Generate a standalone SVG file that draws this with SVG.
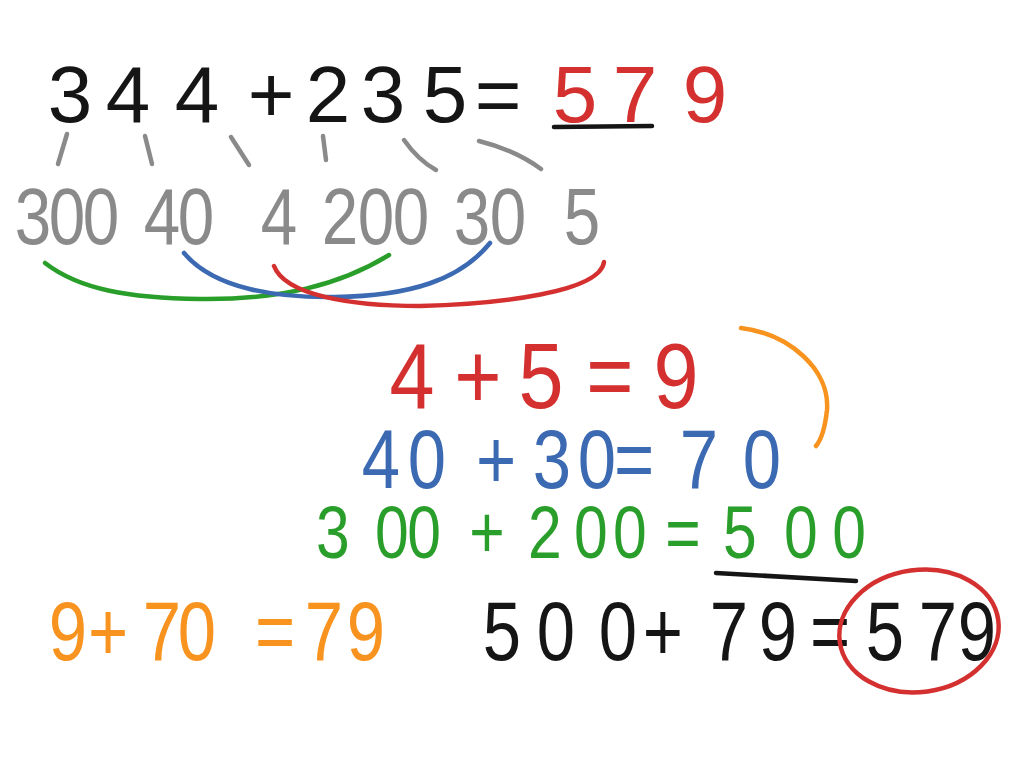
<svg xmlns="http://www.w3.org/2000/svg" width="1024" height="768" viewBox="0 0 1024 768">
<style>
text{font-family:"Liberation Sans",Arial,sans-serif;text-anchor:middle}
.k{fill:#151515}.r{fill:#d3302f}.g{fill:#8a8a8a}.gr{fill:#2a9e2a}.b{fill:#3b69b2}.o{fill:#f7931e}
.s{fill:none;stroke-linecap:round;stroke-linejoin:round;stroke-width:4.5}
.sk{stroke:#151515}.sr{stroke:#d3302f}.sg{stroke:#8a8a8a}.sgr{stroke:#2a9e2a}.sb{stroke:#3b69b2}.so{stroke:#f7931e}
</style>
<rect width="1024" height="768" fill="#fff"/>
<g id="problem">
<text class="k" font-size="80" x="70 128 197 271 328 383 445 498" y="122">344+235=</text>
<text class="r" font-size="80" x="575 635 705" y="122">579</text>
<path class="s sk" d="M554,127 L652,126"/>
</g>
<g id="ticks">
<path class="s sg" d="M67,134 L58,164"/>
<path class="s sg" d="M145,136 L152,164"/>
<path class="s sg" d="M231,137 L249,165"/>
<path class="s sg" d="M323,136 L326,160"/>
<path class="s sg" d="M404,140 Q418,160 436,170"/>
<path class="s sg" d="M479,141 Q515,150 541,169"/>
</g>
<g id="expanded" transform="scale(0.82 1)">
<text class="g" font-size="80" x="40.2 81.7 123.2" y="244">300</text>
<text class="g" font-size="80" x="197.6 239" y="244">40</text>
<text class="g" font-size="80" x="340.2" y="244">4</text>
<text class="g" font-size="80" x="414.6 458.5 501.2" y="244">200</text>
<text class="g" font-size="80" x="575.6 619.5" y="244">30</text>
<text class="g" font-size="80" x="709.8" y="244">5</text>
</g>
<g id="connectors">
<path class="s sgr" d="M45,263 C80,290 130,298 200,299 C280,300 340,285 389,255"/>
<path class="s sb" d="M184,253 C215,290 280,298 335,297 C410,296 460,280 490,243"/>
<path class="s sr" d="M274,266 C285,295 350,306 420,306 C500,304 600,292 604,262"/>
</g>
<g id="ones" transform="scale(0.88 1)">
<text class="r" font-size="92" x="468.2 543.2 614.8 693.2 768.2" y="408">4+5=9</text>
</g>
<g id="tens" transform="scale(0.82 1)">
<text class="b" font-size="84" x="464.6 520.7 604.9 673.2 728 773.2 852.4 929.3" y="488">40+30=70</text>
</g>
<g id="hundreds" transform="scale(0.82 1)">
<text class="gr" font-size="74" x="406.1 478 517.1 593.9 664.6 720.7 768.3 832.9 902.4 976.8 1035.4" y="558">300+200=500</text>
</g>
<path id="bracket" class="s so" d="M741,328 C790,334 830,370 827,410 C825,428 821,440 816,446"/>
<g id="partial" transform="scale(0.82 1)">
<text class="o" font-size="84" x="82.9 131.7 197.6 240.2 335.4 395.1 446.3" y="660">9+70=79</text>
</g>
<g id="total">
<path class="s sk" d="M716,573 L856,581"/>
<g transform="scale(0.82 1)">
<text class="k" font-size="84" x="612.2 678 753.7 808.5 889 948.8 1012.2 1079.3 1143.9 1191.5" y="660">500+79=579</text>
</g>
<ellipse class="s sr" cx="919" cy="631" rx="80" ry="61" transform="rotate(-8 919 631)"/>
</g>
</svg>
